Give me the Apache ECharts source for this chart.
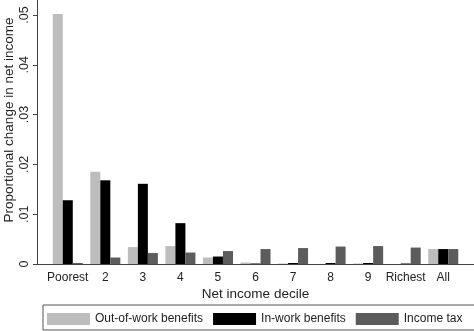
<!DOCTYPE html>
<html><head><meta charset="utf-8">
<script src="https://cdn.jsdelivr.net/npm/echarts@6/dist/echarts.min.js"></script>
<style>html,body{margin:0;padding:0;background:#fff}#c{width:474px;height:331px}</style>
</head><body><div id="c"></div>
<script>
var categories = ['Poorest','2','3','4','5','6','7','8','9','Richest','All'];
var outOfWork = [0.0502, 0.0185, 0.0034, 0.0036, 0.0013, 0.0003, 0.0001, 0.0, 0.0001, 0.0, 0.0030];
var inWork    = [0.0128, 0.0168, 0.0161, 0.0082, 0.0015, 0.0001, 0.0002, 0.0002, 0.0002, 0.0001, 0.0030];
var incomeTax = [0.0002, 0.0013, 0.0022, 0.0023, 0.0026, 0.0030, 0.0032, 0.0035, 0.0036, 0.0033, 0.0030];
var seriesNames = ['Out-of-work benefits','In-work benefits','Income tax'];
var colors = ['#bdbdbd','#000000','#5c5c5c'];
var FONT = 'Liberation Sans';
var chart = echarts.init(document.getElementById('c'));
var yMax = 0.053;
chart.setOption({
  animation: false,
  textStyle: {fontFamily: FONT},
  grid: [
    {left: 49, right: 12, top: 0, bottom: 67, containLabel: false, outerBoundsMode: 'none'},
    {left: 37, right: 0, top: 0, bottom: 67, containLabel: false, outerBoundsMode: 'none'},
    {left: 37, right: 0, top: 0, bottom: 91, containLabel: false, outerBoundsMode: 'none'}
  ],
  legend: {
    left: 43, top: 305, width: 520,
    itemWidth: 43, itemHeight: 12, itemGap: 10,
    padding: [8, 30, 5, 4],
    borderColor: '#555', borderWidth: 1,
    textStyle: {fontFamily: FONT, fontSize: 12, color: '#222'},
    icon: 'rect',
    data: seriesNames
  },
  xAxis: [
    {type: 'category', gridIndex: 0, data: categories,
     axisLine: {show: false}, axisTick: {show: false},
     axisLabel: {fontFamily: FONT, fontSize: 12, color: '#222', margin: 8, interval: 0}},
    {type: 'value', gridIndex: 1, min: 0, max: 1,
     axisLine: {show: true, lineStyle: {color: '#444', width: 1}},
     axisTick: {show: false}, axisLabel: {show: false}, splitLine: {show: false},
     name: 'Net income decile', nameLocation: 'middle', nameGap: 23,
     nameTextStyle: {fontFamily: FONT, fontSize: 13.5, color: '#222'}},
    {type: 'value', gridIndex: 2, min: 0, max: 1, show: false}
  ],
  yAxis: [
    {type: 'value', gridIndex: 0, min: 0, max: yMax, interval: 0.01, offset: 12,
     axisLine: {show: true, lineStyle: {color: '#444'}},
     axisTick: {show: true, length: 4, lineStyle: {color: '#444'}},
     splitLine: {show: false},
     axisLabel: {rotate: 90, fontFamily: FONT, fontSize: 12.5, color: '#222', margin: 6, showMaxLabel: false,
       formatter: function(v){ if (v === 0) return '0'; var s = v.toFixed(2); return s.replace(/^0/, ''); }}},
    {type: 'value', gridIndex: 1, min: 0, max: yMax, show: false},
    {type: 'value', gridIndex: 2, min: 0, max: 1,
     axisLine: {show: false}, axisTick: {show: false}, axisLabel: {show: false}, splitLine: {show: false},
     name: 'Proportional change in net income', nameLocation: 'middle', nameGap: 21,
     nameTextStyle: {fontFamily: FONT, fontSize: 13.5, color: '#222'}}
  ],
  series: [
    {name: seriesNames[0], type: 'bar', xAxisIndex: 0, yAxisIndex: 0, data: outOfWork, barGap: '0%', barCategoryGap: '20%', itemStyle: {color: colors[0]}},
    {name: seriesNames[1], type: 'bar', xAxisIndex: 0, yAxisIndex: 0, data: inWork, barGap: '0%', barCategoryGap: '20%', itemStyle: {color: colors[1]}},
    {name: seriesNames[2], type: 'bar', xAxisIndex: 0, yAxisIndex: 0, data: incomeTax, barGap: '0%', barCategoryGap: '20%', itemStyle: {color: colors[2]}}
  ]
});
</script></body></html>
